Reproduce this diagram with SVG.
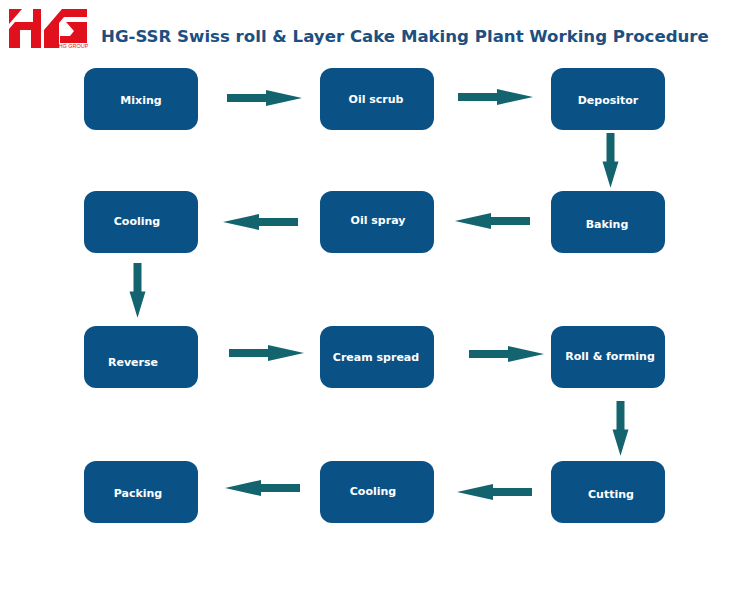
<svg xmlns="http://www.w3.org/2000/svg" width="750" height="600" viewBox="0 0 750 600">
<style>
.n{fill:#0a5286}
.l{font:bold 11px "DejaVu Sans",sans-serif;fill:#fff;text-anchor:middle}
.a{fill:#14646f}
.t{font:bold 16.600px "DejaVu Sans",sans-serif;fill:#1d4f80}
</style>
<defs>
<rect id="box" width="114" height="62" rx="12"/>
<polygon id="arr" points="0,-4 39,-4 39,-8 75,0 39,8 39,4 0,4"/>
</defs>
<rect width="750" height="600" fill="#fff"/>
<g id="logo">
<path fill="#e0101c" d="M9 9H22L9 24Z"/>
<path fill="#e0101c" d="M9 29L15 22H33V9H41V48H31V30H20V48H9Z"/>
<path fill="#e0101c" d="M44 30L62 9H87V17H64L59 23V48H44Z"/>
<path fill="#e0101c" d="M66 22H87V43H60V36H70L74 31L66 22Z"/>
<text x="73.500" y="48" font-family="Liberation Sans,sans-serif" font-size="5.500" fill="#e0101c" text-anchor="middle">HG GROUP</text>
</g>
<text id="title" class="t" x="101" y="42">HG-SSR Swiss roll &amp; Layer Cake Making Plant Working Procedure</text>
<g id="connectors" class="a">
<use href="#arr" transform="translate(227,98)"/>
<use href="#arr" transform="translate(458,97)"/>
<use href="#arr" transform="translate(610.500,133) rotate(90) scale(.73,1)"/>
<use href="#arr" transform="translate(530,221) rotate(180)"/>
<use href="#arr" transform="translate(298,222) rotate(180)"/>
<use href="#arr" transform="translate(137.500,263) rotate(90) scale(.73,1)"/>
<use href="#arr" transform="translate(229,353)"/>
<use href="#arr" transform="translate(469,354)"/>
<use href="#arr" transform="translate(620.500,401) rotate(90) scale(.73,1)"/>
<use href="#arr" transform="translate(532,492) rotate(180)"/>
<use href="#arr" transform="translate(300,488) rotate(180)"/>
</g>
<g id="mixing"><use href="#box" class="n" x="84" y="68"/><text class="l" x="141" y="103.500">Mixing</text></g>
<g id="oil-scrub"><use href="#box" class="n" x="320" y="68"/><text class="l" x="376" y="102.500">Oil scrub</text></g>
<g id="depositor"><use href="#box" class="n" x="551" y="68"/><text class="l" x="608" y="103.500">Depositor</text></g>
<g id="cooling-1"><use href="#box" class="n" x="84" y="191"/><text class="l" x="137" y="224.500">Cooling</text></g>
<g id="oil-spray"><use href="#box" class="n" x="320" y="191"/><text class="l" x="378" y="223.500">Oil spray</text></g>
<g id="baking"><use href="#box" class="n" x="551" y="191"/><text class="l" x="607" y="227.500">Baking</text></g>
<g id="reverse"><use href="#box" class="n" x="84" y="326"/><text class="l" x="133" y="365.500">Reverse</text></g>
<g id="cream-spread"><use href="#box" class="n" x="320" y="326"/><text class="l" x="376" y="360.500">Cream spread</text></g>
<g id="roll-forming"><use href="#box" class="n" x="551" y="326"/><text class="l" x="610" y="359.500">Roll &amp; forming</text></g>
<g id="packing"><use href="#box" class="n" x="84" y="461"/><text class="l" x="138" y="496.500">Packing</text></g>
<g id="cooling-2"><use href="#box" class="n" x="320" y="461"/><text class="l" x="373" y="494.500">Cooling</text></g>
<g id="cutting"><use href="#box" class="n" x="551" y="461"/><text class="l" x="611" y="497.500">Cutting</text></g>
</svg>
